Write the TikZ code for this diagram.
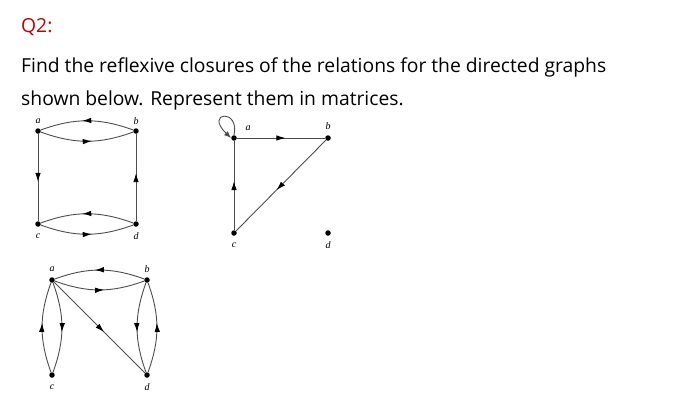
\documentclass[tikz,border=0pt]{standalone}
\usepackage{fontspec}
\setmainfont{Open Sans}
\newfontfamily\gfont{Liberation Serif}
\usetikzlibrary{decorations.markings,arrows.meta}
\tikzset{
 x=1pt,y=1pt,
 v/.style={circle,fill=black,inner sep=0pt,minimum size=5.5pt},
 lab/.style={font=\gfont\itshape\fontsize{10}{10}\selectfont},
 e/.style={draw=black!70,line width=0.9pt,postaction=decorate,decoration={markings,mark=at position 0.55 with {\arrow[black]{Latex[length=9pt,width=5.5pt]}}}},
 txt/.style={anchor=west,inner sep=0pt,font=\fontsize{19.3}{19.3}\selectfont}
}
\begin{document}
\begin{tikzpicture}
\useasboundingbox (0,0) rectangle (685,-408);
\node[txt,text={rgb,255:red,192;green,0;blue,0}] (q) at (21,-27) {Q2:};
\node[txt] (l1) at (21,-67) {Find the reflexive closures of the relations for the directed graphs};
\node[txt] (l2) at (21,-100) {shown below. Represent them in matrices.};
% graph 1
\node[v] (a1) at (38,-131) {}; \node[v] (b1) at (136,-131) {};
\node[v] (c1) at (38,-224) {}; \node[v] (d1) at (136,-224) {};
\node[lab] at (38,-121) {a}; \node[lab] at (136,-121) {b};
\node[lab] at (38,-236) {c}; \node[lab] at (136,-236) {d};
\path[e] (b1) to[bend right=20] (a1);
\path[e] (a1) to[bend right=20] (b1);
\path[e] (a1) -- (c1);
\path[e] (d1) -- (b1);
\path[e] (d1) to[bend right=20] (c1);
\path[e] (c1) to[bend right=20] (d1);
% graph 2
\node[v] (a2) at (234,-138) {}; \node[v] (b2) at (328,-138) {};
\node[v] (c2) at (234,-233) {}; \node[v] (d2) at (328,-233) {};
\node[lab] at (248,-128) {a}; \node[lab] at (328,-126) {b};
\node[lab] at (234,-245) {c}; \node[lab] at (328,-245) {d};
\path[e] (a2) -- (b2);
\path[e] (b2) -- (c2);
\path[e] (c2) -- (a2);
\draw[draw=black!70,line width=0.9pt,-{Latex[length=7pt,width=5.5pt]}] (a2.north) .. controls (240,-108) and (204,-112) .. (a2.west);
% graph 3
\node[v] (a3) at (52,-280) {}; \node[v] (b3) at (147,-280) {};
\node[v] (c3) at (52,-375) {}; \node[v] (d3) at (147,-375) {};
\node[lab] at (52,-269) {a}; \node[lab] at (147,-269) {b};
\node[lab] at (52,-387) {c}; \node[lab] at (147,-387) {d};
\path[e] (b3) to[bend right=20] (a3);
\path[e] (a3) to[bend right=20] (b3);
\path[e] (a3) -- (d3);
\path[e] (c3) to[bend left=20] (a3);
\path[e] (a3) to[bend left=20] (c3);
\path[e] (b3) to[bend right=20] (d3);
\path[e] (d3) to[bend right=20] (b3);
\end{tikzpicture}
\end{document}
